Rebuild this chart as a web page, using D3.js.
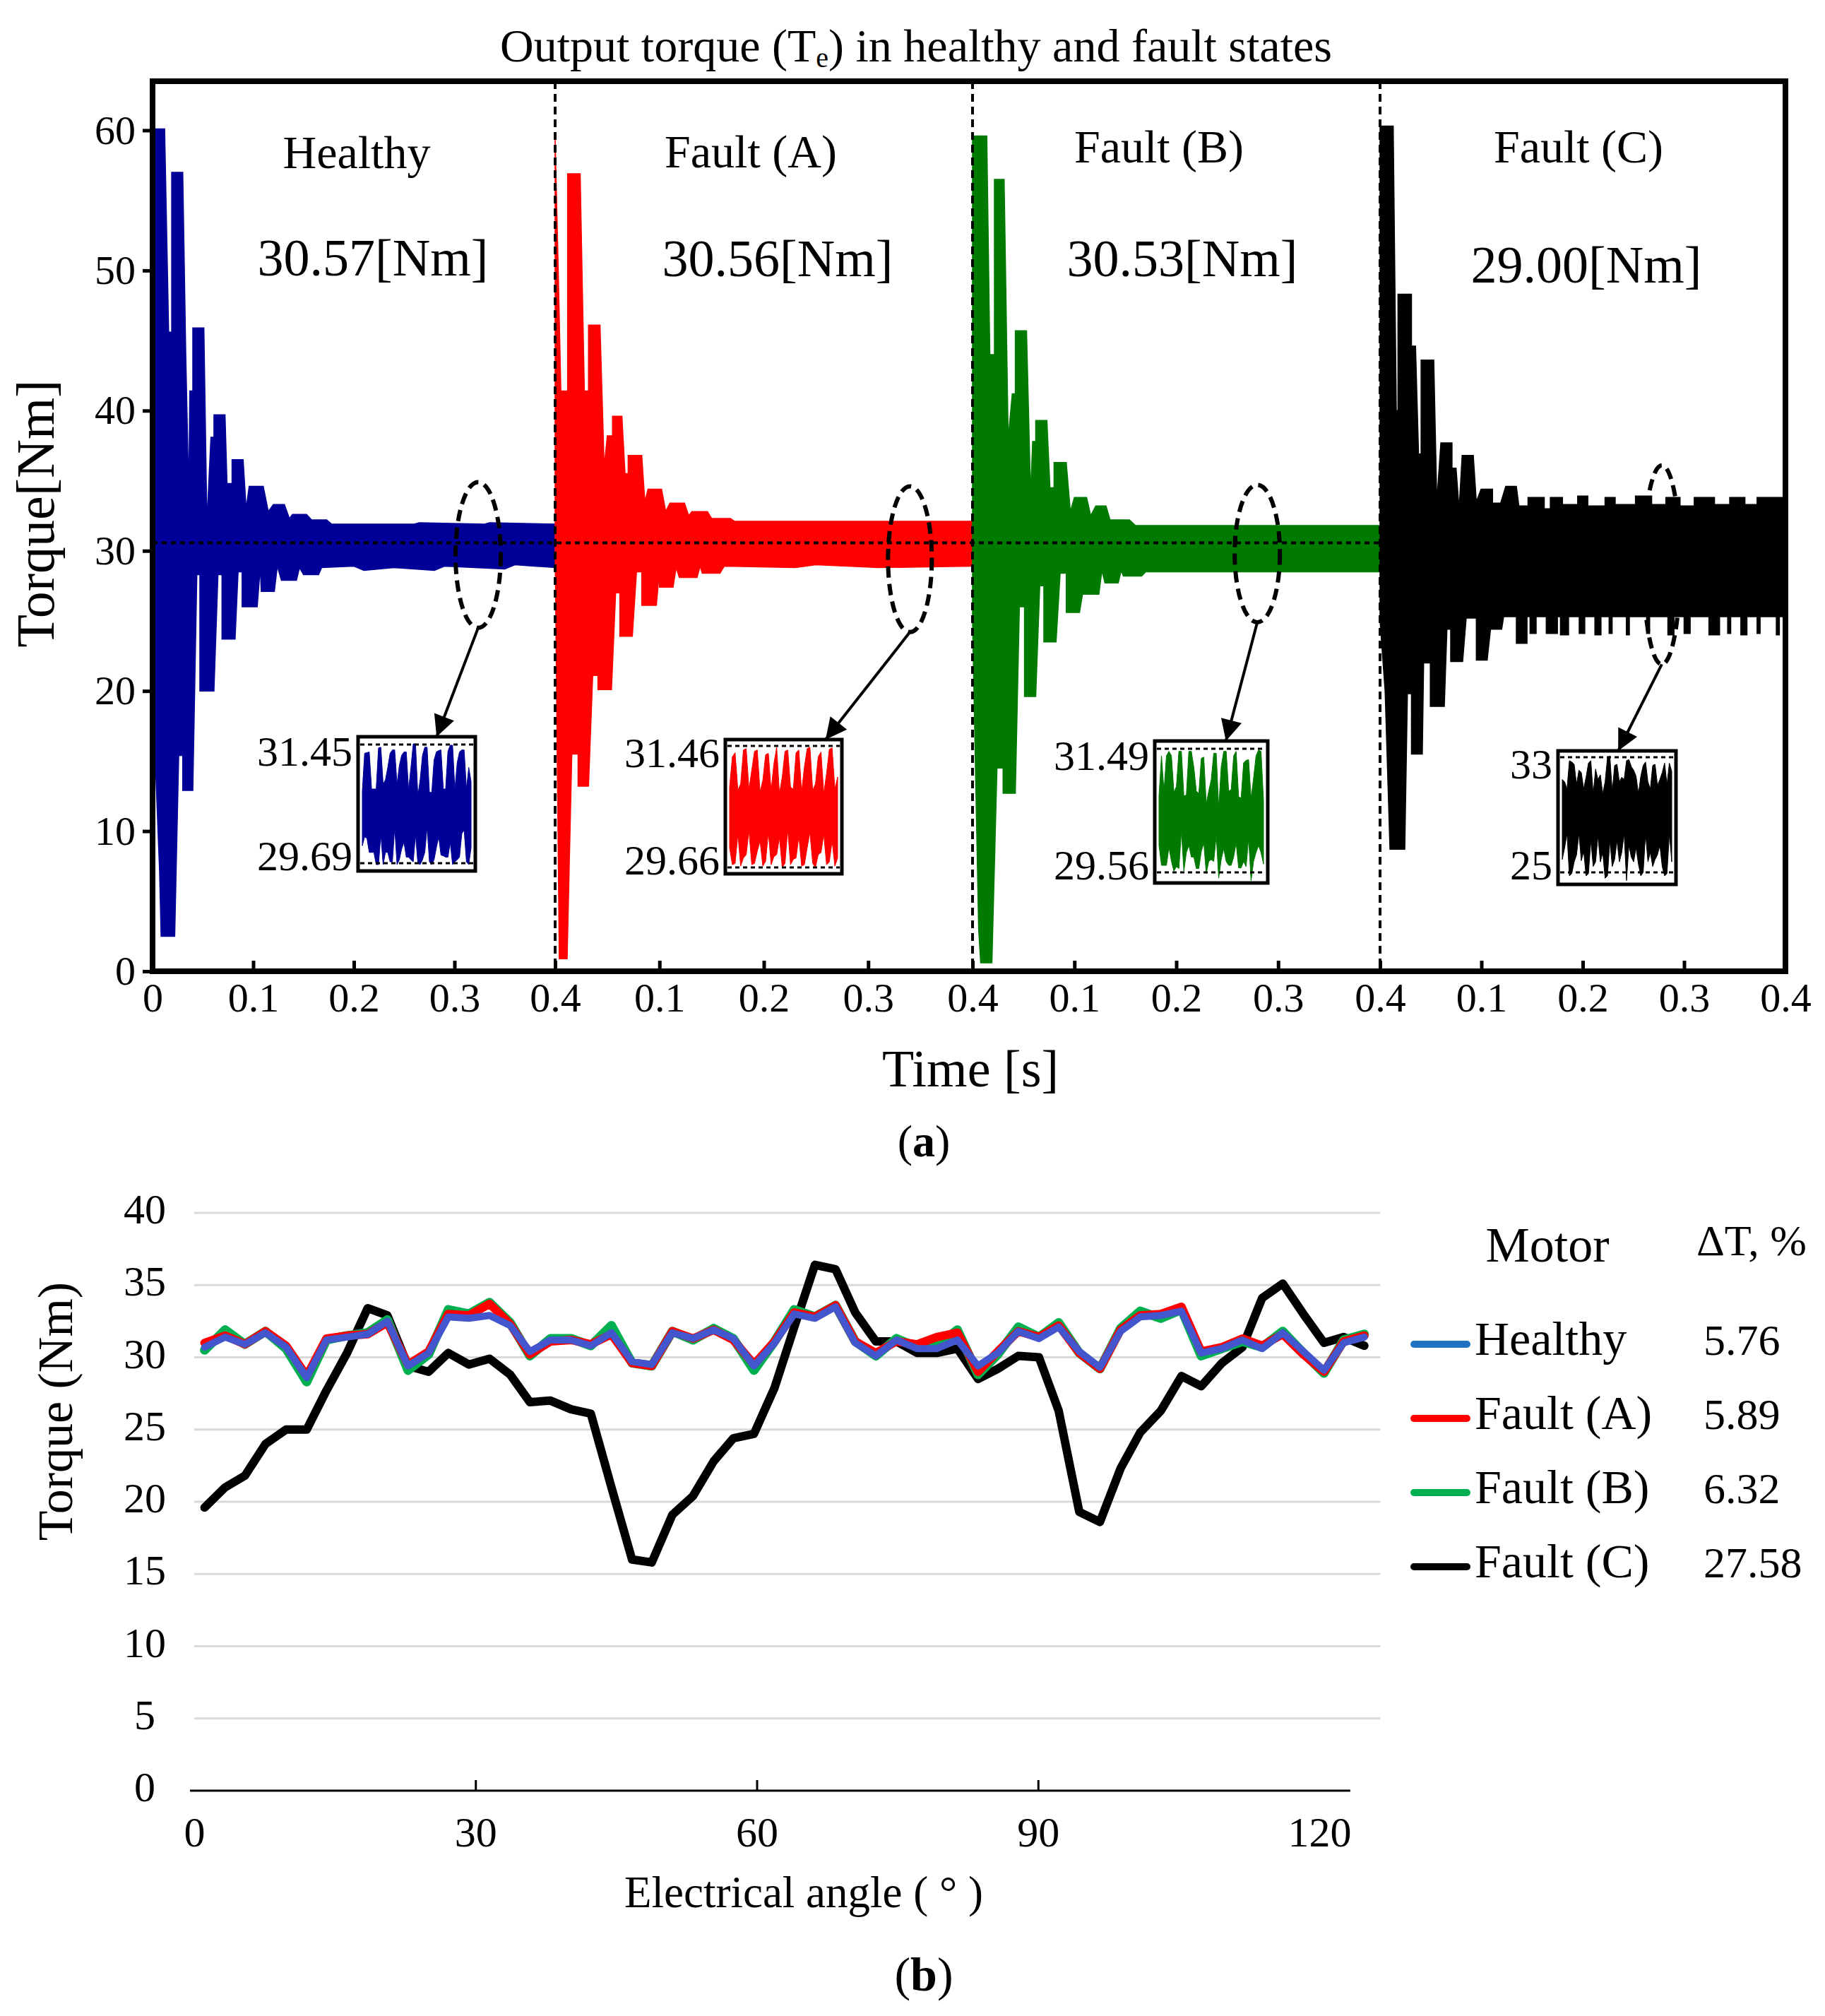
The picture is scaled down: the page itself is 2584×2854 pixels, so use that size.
<!DOCTYPE html>
<html>
<head>
<meta charset="utf-8">
<script src="https://cdn.jsdelivr.net/npm/d3@7"></script>
<style>
  body { margin: 0; background: #fff; }
  svg { display: block; font-family: "Liberation Serif", "Times New Roman", serif; }
</style>
</head>
<body>
<div id="chart"></div>
<script>
// ---------- (a) output torque, time domain ----------
// each panel: upper / lower envelope of the torque band, [t (s), torque (Nm)]
const panelNames = ["Healthy", "Fault (A)", "Fault (B)", "Fault (C)"];
const meanTorque = ["30.57", "30.56", "30.53", "29.00"];
const meanLine = 30.57;
const yTicksA = [0, 10, 20, 30, 40, 50, 60];

const healthyUpper = [[0,60.1],[0.012,60.1],[0.016,45.6],[0.019,45.6],[0.019,57.0],[0.030,57.0],[0.033,44.0],[0.036,34.0],[0.037,41.4],[0.040,41.4],[0.040,45.9],[0.051,45.9],[0.054,32.0],[0.058,38.1],[0.061,38.1],[0.061,39.7],[0.072,39.7],[0.074,34.8],[0.079,34.8],[0.079,36.5],[0.090,36.5],[0.093,33.0],[0.096,34.6],[0.110,34.6],[0.115,32.8],[0.120,33.3],[0.131,33.3],[0.136,32.3],[0.139,32.6],[0.153,32.6],[0.158,32.2],[0.173,32.2],[0.178,31.9],[0.26,31.9],[0.265,32.0],[0.33,31.9],[0.335,32.0],[0.4,31.9]];
const healthyLower = [[0,20.0],[0.007,7.1],[0.0085,2.5],[0.022,2.5],[0.026,15.4],[0.030,15.4],[0.030,12.9],[0.040,12.9],[0.044,28.3],[0.047,28.3],[0.047,20.0],[0.061,20.0],[0.065,28.3],[0.069,28.3],[0.069,23.7],[0.082,23.7],[0.085,28.5],[0.089,28.5],[0.089,26.0],[0.104,26.0],[0.107,28.8],[0.108,27.1],[0.121,27.1],[0.124,28.9],[0.128,27.9],[0.143,27.9],[0.146,28.8],[0.150,28.3],[0.165,28.3],[0.168,28.8],[0.2,28.9],[0.21,28.6],[0.24,28.8],[0.28,28.6],[0.29,28.9],[0.35,28.7],[0.36,29.0],[0.4,28.8]];

const faultAUpper = [[0,59.4],[0.003,50.0],[0.0055,41.4],[0.012,41.4],[0.012,56.9],[0.024,56.9],[0.028,41.4],[0.032,41.4],[0.032,46.1],[0.043,46.1],[0.047,36.0],[0.050,38.2],[0.055,38.2],[0.055,39.6],[0.064,39.6],[0.067,35.5],[0.070,35.5],[0.070,36.8],[0.083,36.8],[0.086,33.5],[0.089,34.4],[0.102,34.4],[0.106,32.8],[0.110,33.4],[0.124,33.4],[0.128,32.5],[0.131,32.8],[0.146,32.8],[0.150,32.3],[0.168,32.3],[0.172,32.1],[0.4,32.1]];
const faultALower = [[0,30.0],[0.004,0.9],[0.0115,0.9],[0.016,15.5],[0.022,15.5],[0.022,13.2],[0.032,13.2],[0.036,21.1],[0.041,21.1],[0.041,20.1],[0.054,20.1],[0.058,27.0],[0.062,27.0],[0.062,23.9],[0.074,23.9],[0.078,28.5],[0.083,28.5],[0.083,26.1],[0.097,26.1],[0.100,28.6],[0.100,27.4],[0.113,27.4],[0.116,28.8],[0.119,28.1],[0.136,28.1],[0.139,28.9],[0.141,28.4],[0.158,28.4],[0.162,28.9],[0.23,28.8],[0.25,29.0],[0.31,28.8],[0.4,28.9]];

const faultBUpper = [[0,59.6],[0.014,59.6],[0.017,44.0],[0.0215,44.0],[0.0215,56.5],[0.031,56.5],[0.035,38.0],[0.039,41.2],[0.042,41.2],[0.042,45.7],[0.053,45.7],[0.057,34.0],[0.059,37.8],[0.062,37.8],[0.062,39.3],[0.073,39.3],[0.076,34.5],[0.080,34.5],[0.080,36.3],[0.092,36.3],[0.096,32.8],[0.100,33.8],[0.112,33.8],[0.116,32.5],[0.121,33.2],[0.131,33.2],[0.135,32.2],[0.154,32.2],[0.160,31.8],[0.4,31.8]];
const faultBLower = [[0,25.0],[0.006,3.0],[0.008,0.6],[0.019,0.6],[0.024,14.5],[0.030,14.5],[0.030,12.7],[0.042,12.7],[0.046,26.0],[0.051,26.0],[0.051,19.6],[0.062,19.6],[0.066,27.5],[0.070,27.5],[0.070,23.5],[0.082,23.5],[0.086,28.4],[0.092,28.4],[0.092,25.6],[0.105,25.6],[0.108,26.9],[0.124,26.9],[0.127,28.6],[0.130,27.7],[0.143,27.7],[0.146,28.6],[0.148,28.2],[0.166,28.2],[0.170,28.5],[0.4,28.5]];

const faultCUpper = [[0,60.3],[0.013,60.3],[0.016,40.0],[0.0177,40.0],[0.0177,48.3],[0.031,48.3],[0.031,44.6],[0.035,44.6],[0.038,36.9],[0.0405,36.9],[0.0405,43.6],[0.053,43.6],[0.056,33.5],[0.060,37.7],[0.071,37.7],[0.071,35.9],[0.075,35.9],[0.078,33.0],[0.081,36.8],[0.092,36.8],[0.095,33.5],[0.0997,34.4],[0.111,34.4],[0.111,33.4],[0.119,33.4],[0.124,34.6],[0.1345,34.6],[0.137,33.2],[0.146,33.2],[0.146,33.8],[0.162,33.8],[0.162,33.0],[0.168,33.0],[0.168,33.8],[0.18,33.8],[0.18,33.3],[0.195,33.3],[0.195,33.9],[0.205,33.9],[0.205,33.2],[0.222,33.2],[0.222,33.8],[0.232,33.8],[0.232,33.3],[0.252,33.3],[0.252,33.9],[0.268,33.9],[0.268,33.3],[0.282,33.3],[0.282,33.8],[0.296,33.8],[0.296,33.2],[0.31,33.2],[0.31,33.8],[0.33,33.8],[0.33,33.3],[0.345,33.3],[0.345,33.8],[0.36,33.8],[0.36,33.3],[0.372,33.3],[0.372,33.8],[0.4,33.8]];
const faultCLower = [[0,25.0],[0.005,20.0],[0.0098,8.7],[0.0244,8.7],[0.027,19.8],[0.031,19.8],[0.031,15.5],[0.0417,15.5],[0.043,22.0],[0.0496,22.0],[0.0496,18.9],[0.0634,18.9],[0.066,24.4],[0.0697,24.4],[0.0697,22.1],[0.0815,22.1],[0.085,25.2],[0.095,25.2],[0.095,22.2],[0.1057,22.2],[0.109,24.4],[0.12,24.4],[0.122,25.3],[0.1345,25.3],[0.1345,23.4],[0.145,23.4],[0.145,25.3],[0.148,25.3],[0.148,24.1],[0.154,24.1],[0.154,25.3],[0.164,25.3],[0.164,24.1],[0.175,24.1],[0.175,25.3],[0.178,25.3],[0.178,24.0],[0.186,24.0],[0.186,25.3],[0.1965,25.3],[0.1965,24.1],[0.202,24.1],[0.202,25.3],[0.212,25.3],[0.212,24.0],[0.218,24.0],[0.218,25.3],[0.226,25.3],[0.226,24.1],[0.229,24.1],[0.229,25.3],[0.243,25.3],[0.243,24.0],[0.246,24.0],[0.246,25.3],[0.263,25.3],[0.263,24.1],[0.266,24.1],[0.266,25.3],[0.284,25.3],[0.284,24.0],[0.29,24.0],[0.29,25.3],[0.30,25.3],[0.30,24.1],[0.306,24.1],[0.306,25.3],[0.3245,25.3],[0.3245,24.0],[0.335,24.0],[0.335,25.3],[0.343,25.3],[0.343,24.1],[0.346,24.1],[0.346,25.3],[0.356,25.3],[0.356,24.0],[0.362,24.0],[0.362,25.3],[0.372,25.3],[0.372,24.1],[0.375,24.1],[0.375,25.3],[0.391,25.3],[0.391,24.0],[0.394,24.0],[0.394,25.3],[0.4,25.3]];

// zoomed insets: band top / bottom samples and the two marked levels
const insetHigh = [31.45, 31.46, 31.49, 33];
const insetLow = [29.69, 29.66, 29.56, 25];
const healthyInsetTop = [30.76,31.32,31.33,31.34,30.79,30.79,30.79,31.40,31.41,30.86,30.93,31.11,31.32,31.37,31.37,30.86,31.14,31.29,31.34,31.34,30.78,31.11,31.46,31.46,30.69,30.93,31.29,31.41,31.41,30.74,30.74,31.22,31.34,31.36,31.37,30.79,30.79,31.35,31.44,31.44,30.79,31.18,31.34,31.37,31.37,30.79,31.11,30.90];
const healthyInsetBottom = [29.95,30.08,30.06,29.85,29.85,29.85,29.67,29.67,30.11,29.67,29.85,29.85,29.71,29.71,30.22,29.67,29.74,29.90,30.00,29.78,29.78,29.74,29.71,30.11,29.69,29.67,29.74,29.85,30.22,29.71,29.67,29.74,29.92,30.08,29.81,29.80,29.78,29.78,29.99,29.67,29.71,29.74,29.78,30.13,30.18,29.71,29.67,29.92];
const faultAInsetTop = [30.85,31.30,31.36,30.80,30.90,31.40,31.42,30.82,31.10,31.38,31.40,30.78,30.95,31.33,31.35,30.80,31.20,31.44,30.75,31.00,31.38,31.40,30.85,30.82,31.36,31.40,30.78,31.15,31.42,31.44,30.80,30.90,31.30,31.37,30.76,31.05,31.41,31.43,30.82,31.00];
const faultAInsetBottom = [29.95,29.70,29.72,30.15,29.68,29.80,29.85,30.20,29.70,29.72,29.90,30.05,29.68,29.75,30.18,29.70,29.82,29.85,30.10,29.66,29.72,30.22,29.70,29.78,29.80,30.12,29.68,29.70,29.95,30.18,29.72,29.66,29.85,29.88,30.15,29.70,29.74,30.05,29.68,29.80];
const faultBInsetTop = [30.75,31.38,30.83,31.38,31.45,31.38,30.81,30.90,31.45,31.45,30.75,30.77,31.45,31.45,31.20,30.83,30.79,31.34,31.36,30.63,30.83,31.01,31.42,31.42,30.57,31.21,31.45,31.45,30.83,30.85,31.38,31.45,30.74,30.72,31.27,31.31,31.32,30.72,31.03,31.38,31.47,31.45,30.68];
const faultBInsetBottom = [29.98,29.67,29.67,29.67,29.95,29.73,29.58,29.65,29.62,30.20,29.58,29.87,29.98,29.80,29.80,29.62,29.62,29.89,30.02,29.54,29.73,29.76,29.73,30.13,29.47,29.76,29.93,29.73,29.67,29.67,29.80,30.02,29.63,29.63,29.73,29.65,30.09,29.43,29.73,29.87,29.98,29.87,29.69];
const faultCInsetTop = [31.45,31.29,30.80,32.76,32.67,32.51,31.12,32.10,31.94,30.80,31.61,32.59,32.76,30.47,32.18,31.45,31.78,30.47,31.29,33.00,33.08,30.63,32.43,32.51,31.29,31.61,31.45,32.76,32.84,32.35,32.10,31.69,30.47,31.69,32.43,32.67,31.29,30.80,32.43,32.51,31.04,31.45,31.94,32.59,31.12,32.59,32.02];
const faultCInsetBottom = [25.90,26.71,27.69,24.76,24.92,25.73,26.22,27.69,25.81,26.47,24.76,24.92,27.20,25.41,25.73,27.53,25.73,26.39,24.59,24.76,27.20,25.41,25.90,27.20,25.73,26.39,27.69,24.43,26.88,26.06,25.73,26.71,25.57,24.76,25.00,27.69,25.73,26.39,25.41,25.90,26.22,26.88,25.41,24.76,24.92,27.69,25.73];

// ---------- (b) torque vs electrical angle ----------
const angles = [1.1,3.3,5.4,7.6,9.8,12.0,14.1,16.3,18.5,20.6,22.8,25.0,27.1,29.3,31.5,33.7,35.8,38.0,40.2,42.3,44.5,46.7,48.8,51.0,53.2,55.4,57.5,59.7,61.9,64.0,66.2,68.4,70.5,72.7,74.9,77.1,79.2,81.4,83.6,85.7,87.9,90.1,92.2,94.4,96.6,98.8,100.9,103.1,105.3,107.4,109.6,111.8,113.9,116.1,118.3,120.5,122.6,124.8];
const torqueHealthy = [30.7,31.4,30.9,31.7,30.7,28.6,31.2,31.4,31.6,32.5,29.4,30.3,32.8,32.7,32.9,32.2,30.4,31.2,31.2,30.8,31.7,29.7,29.5,31.7,31.3,31.9,31.3,29.4,31.0,33.0,32.7,33.5,31.0,30.1,31.2,30.6,30.6,31.2,29.4,30.3,31.8,31.3,32.1,30.4,29.3,31.8,32.8,32.9,33.2,30.3,30.6,31.2,30.6,31.7,30.4,29.1,31.0,31.4];
const torqueFaultA = [31.0,31.5,30.9,31.8,30.8,28.7,31.3,31.5,31.6,32.4,29.5,30.4,33.0,32.9,33.7,32.3,30.2,31.1,31.2,30.9,31.6,29.6,29.4,31.8,31.3,31.9,31.2,29.5,31.1,33.1,32.8,33.6,31.1,30.3,31.1,30.9,31.4,31.7,29.0,30.4,31.8,31.4,32.2,30.3,29.2,31.9,32.9,33.0,33.5,30.4,30.7,31.3,30.8,31.6,30.2,29.0,31.1,31.5];
const torqueFaultB = [30.5,31.9,30.9,31.8,30.6,28.3,31.2,31.5,31.7,32.6,29.1,30.2,33.3,33.0,33.8,32.4,30.1,31.3,31.3,30.8,32.2,29.6,29.4,31.8,31.2,32.0,31.3,29.1,31.1,33.3,32.8,33.6,31.1,30.1,31.3,30.7,30.8,31.9,28.8,30.2,32.1,31.4,32.4,30.3,29.2,32.0,33.2,32.7,33.3,30.1,30.6,31.1,30.7,31.8,30.3,28.9,31.2,31.6];
const torqueFaultC = [19.6,21.0,21.8,24.0,25.0,25.0,27.7,30.3,33.4,32.9,29.4,29.0,30.3,29.5,29.9,28.8,26.9,27.0,26.4,26.1,21.0,16.0,15.8,19.1,20.4,22.8,24.4,24.7,27.9,32.1,36.4,36.1,33.1,31.1,31.1,30.3,30.3,30.6,28.5,29.2,30.1,30.0,26.3,19.3,18.6,22.3,24.8,26.3,28.7,28.0,29.6,30.7,34.1,35.1,33.0,31.0,31.4,30.8];
const yTicksB = [0, 5, 10, 15, 20, 25, 30, 35, 40];
const xTicksB = [0, 30, 60, 90, 120];
const rippleValues = ["5.76", "5.89", "6.32", "27.58"];

const width = 2584, height = 2854;
const fontFamily = '"Liberation Serif", "Times New Roman", serif';

const svg = d3.select("#chart")
  .append("svg")
  .attr("width", width)
  .attr("height", height)
  .attr("viewBox", [0, 0, width, height]);

svg.append("rect").attr("width", width).attr("height", height).attr("fill", "#fff");

svg.append("defs").append("marker")
  .attr("id", "arrow")
  .attr("viewBox", "0 0 10 10")
  .attr("refX", 10).attr("refY", 5)
  .attr("markerUnits", "userSpaceOnUse")
  .attr("markerWidth", 34).attr("markerHeight", 30)
  .attr("orient", "auto")
  .append("path").attr("d", "M0,0 L10,5 L0,10 z").attr("fill", "#000");

/* ======================= panel (a) ======================= */

const frame = { left: 216, right: 2528, top: 115, bottom: 1375 };
const edges = [216, 786, 1377, 1954, 2528];

const yA = d3.scaleLinear().domain([0, 63.5]).range([frame.bottom, frame.top]);
const xA = edges.slice(0, 4).map((e, i) =>
  d3.scaleLinear().domain([0, 0.4]).range([e, edges[i + 1]]));

const waves = [
  { upper: healthyUpper, lower: healthyLower, color: "#000099" },
  { upper: faultAUpper, lower: faultALower, color: "#ff0000" },
  { upper: faultBUpper, lower: faultBLower, color: "#007a00" },
  { upper: faultCUpper, lower: faultCLower, color: "#000000" }
];

// band = upper envelope forward, lower envelope back
waves.forEach((w, i) => {
  const line = d3.line().x(d => xA[i](d[0])).y(d => yA(d[1]));
  svg.append("path")
    .attr("d", line(w.upper.concat(w.lower.slice().reverse())) + "Z")
    .attr("fill", w.color)
    .attr("stroke", w.color)
    .attr("stroke-width", 1.5);
});

// panel separators
svg.selectAll(".sep")
  .data(edges.slice(1, 4))
  .enter()
  .append("line")
    .attr("class", "sep")
    .attr("x1", d => d).attr("x2", d => d)
    .attr("y1", frame.top).attr("y2", frame.bottom)
    .attr("stroke", "#000")
    .attr("stroke-width", 4)
    .attr("stroke-dasharray", "11,7");

// average torque line
svg.append("line")
  .attr("x1", edges[0]).attr("x2", edges[3])
  .attr("y1", yA(meanLine)).attr("y2", yA(meanLine))
  .attr("stroke", "#000")
  .attr("stroke-width", 4)
  .attr("stroke-dasharray", "7,6");

// frame
svg.append("rect")
  .attr("x", frame.left).attr("y", frame.top)
  .attr("width", frame.right - frame.left)
  .attr("height", frame.bottom - frame.top)
  .attr("fill", "none")
  .attr("stroke", "#000")
  .attr("stroke-width", 8);

// y axis
svg.append("g")
  .attr("transform", `translate(${frame.left},0)`)
  .call(d3.axisLeft(yA).tickValues(yTicksA).tickSize(14).tickPadding(10))
  .attr("font-family", fontFamily)
  .attr("font-size", 58)
  .call(g => g.select(".domain").remove())
  .call(g => g.selectAll(".tick line").attr("stroke-width", 5))
  .call(g => g.selectAll(".tick text").attr("fill", "#000"));

// x axes, one per state
xA.forEach((x, i) => {
  svg.append("g")
    .attr("transform", `translate(0,${frame.bottom})`)
    .call(d3.axisBottom(x)
      .tickValues(i === 0 ? [0, 0.1, 0.2, 0.3, 0.4] : [0.1, 0.2, 0.3, 0.4])
      .tickSizeInner(-15).tickSizeOuter(0).tickPadding(16)
      .tickFormat(d => d === 0 ? "0" : d3.format(".1f")(d)))
    .attr("font-family", fontFamily)
    .attr("font-size", 58)
    .call(g => g.select(".domain").remove())
    .call(g => g.selectAll(".tick line").attr("stroke-width", 5))
    .call(g => g.selectAll(".tick text").attr("fill", "#000"));
});

// state names and averages
const nameX = [505, 1063, 1641, 2235];
const nameY = [238, 237, 230, 230];
const valueX = [528, 1101, 1674, 2246];
const valueY = [390, 391, 391, 400];

panelNames.forEach((n, i) => {
  svg.append("text")
    .attr("x", nameX[i]).attr("y", nameY[i])
    .attr("text-anchor", "middle")
    .attr("font-size", 66)
    .text(n);
  svg.append("text")
    .attr("x", valueX[i]).attr("y", valueY[i])
    .attr("text-anchor", "middle")
    .attr("font-size", 74)
    .text(meanTorque[i] + "[Nm]");
});

// zoom markers and insets
const zoomAt = [
  { t: 0.3235, v: 29.7, rx: 32, rv: 5.2 },
  { t: 0.34, v: 29.4, rx: 31, rv: 5.2 },
  { t: 0.2795, v: 29.8, rx: 32, rv: 4.9 },
  { t: 0.278, v: 29.0, rx: 26, rv: 7.1 }
];
const insetBox = [
  { x: 507, y: 1043, w: 166, h: 190, padT: 11, padB: 11, arrow: 0.67 },
  { x: 1027, y: 1047, w: 165, h: 190, padT: 9, padB: 9, arrow: 0.86 },
  { x: 1635, y: 1049, w: 160, h: 201, padT: 11, padB: 15, arrow: 0.63 },
  { x: 2206, y: 1063, w: 167, h: 189, padT: 9, padB: 17, arrow: 0.51 }
];
const insetTop = [healthyInsetTop, faultAInsetTop, faultBInsetTop, faultCInsetTop];
const insetBottom = [healthyInsetBottom, faultAInsetBottom, faultBInsetBottom, faultCInsetBottom];

zoomAt.forEach((z, i) => {
  const cx = xA[i](z.t), cy = yA(z.v);
  const ry = yA(z.v - z.rv) - cy;
  svg.append("ellipse")
    .attr("cx", cx).attr("cy", cy)
    .attr("rx", z.rx).attr("ry", ry)
    .attr("fill", "none")
    .attr("stroke", "#000")
    .attr("stroke-width", 6)
    .attr("stroke-dasharray", "16,9");

  const b = insetBox[i];
  svg.append("line")
    .attr("x1", cx).attr("y1", cy + ry)
    .attr("x2", b.x + b.arrow * b.w).attr("y2", b.y)
    .attr("stroke", "#000")
    .attr("stroke-width", 4)
    .attr("marker-end", "url(#arrow)");

  const ys = d3.scaleLinear().domain([insetLow[i], insetHigh[i]])
    .range([b.y + b.h - b.padB, b.y + b.padT]);
  const top = insetTop[i], bottom = insetBottom[i];
  const xs = d3.scaleLinear().domain([0, top.length - 1]).range([b.x + 6, b.x + b.w - 6]);

  svg.append("rect")
    .attr("x", b.x).attr("y", b.y).attr("width", b.w).attr("height", b.h)
    .attr("fill", "#fff");

  svg.append("path")
    .datum(top)
    .attr("d", d3.area()
      .x((d, k) => xs(k))
      .y0((d, k) => ys(bottom[k]))
      .y1(d => ys(d)))
    .attr("fill", waves[i].color)
    .attr("stroke", waves[i].color)
    .attr("stroke-width", 1);

  [insetHigh[i], insetLow[i]].forEach(v => {
    svg.append("line")
      .attr("x1", b.x + 3).attr("x2", b.x + b.w - 3)
      .attr("y1", ys(v)).attr("y2", ys(v))
      .attr("stroke", "#000")
      .attr("stroke-width", 3)
      .attr("stroke-dasharray", "6,5");
  });

  svg.append("rect")
    .attr("x", b.x).attr("y", b.y).attr("width", b.w).attr("height", b.h)
    .attr("fill", "none")
    .attr("stroke", "#000")
    .attr("stroke-width", 5);

  svg.append("text")
    .attr("x", b.x - 8).attr("y", ys(insetHigh[i]) + 30)
    .attr("text-anchor", "end")
    .attr("font-size", 60)
    .text(insetHigh[i]);
  svg.append("text")
    .attr("x", b.x - 8).attr("y", ys(insetLow[i]) + 10)
    .attr("text-anchor", "end")
    .attr("font-size", 60)
    .text(insetLow[i]);
});

// titles for (a)
const titleA = svg.append("text")
  .attr("x", 1297).attr("y", 87)
  .attr("text-anchor", "middle")
  .attr("font-size", 66);
titleA.append("tspan").text("Output torque (T");
titleA.append("tspan").attr("font-size", 40).attr("dy", 8).text("e");
titleA.append("tspan").attr("dy", -8).text(") in healthy and fault states");

svg.append("text")
  .attr("transform", "translate(76,727) rotate(-90)")
  .attr("text-anchor", "middle")
  .attr("font-size", 76)
  .text("Torque[Nm]");

svg.append("text")
  .attr("x", 1374).attr("y", 1538)
  .attr("text-anchor", "middle")
  .attr("font-size", 74)
  .text("Time [s]");

const capA = svg.append("text")
  .attr("x", 1308).attr("y", 1637)
  .attr("text-anchor", "middle")
  .attr("font-size", 64);
capA.append("tspan").text("(");
capA.append("tspan").attr("font-weight", "bold").text("a");
capA.append("tspan").text(")");

/* ======================= panel (b) ======================= */

const xB = d3.scaleLinear().domain([0, 120]).range([275, 1868]);
const yB = d3.scaleLinear().domain([0, 40]).range([2535, 1717]);

// gridlines
svg.selectAll(".gridB")
  .data(yTicksB.filter(d => d > 0))
  .enter()
  .append("line")
    .attr("class", "gridB")
    .attr("x1", xB(0)).attr("x2", xB(126.5))
    .attr("y1", d => yB(d)).attr("y2", d => yB(d))
    .attr("stroke", "#d9d9d9")
    .attr("stroke-width", 3);

// zero axis
svg.append("line")
  .attr("x1", xB(-0.45)).attr("x2", xB(123.3))
  .attr("y1", yB(0)).attr("y2", yB(0))
  .attr("stroke", "#000")
  .attr("stroke-width", 3);

svg.append("g")
  .attr("transform", `translate(0,${yB(0)})`)
  .call(d3.axisBottom(xB).tickValues(xTicksB).tickSizeInner(-15).tickSizeOuter(0).tickPadding(36))
  .attr("font-family", fontFamily)
  .attr("font-size", 60)
  .call(g => g.select(".domain").remove())
  .call(g => g.selectAll(".tick line")
    .attr("stroke-width", 3)
    .attr("opacity", d => (d === 0 || d === 120) ? 0 : 1))
  .call(g => g.selectAll(".tick text").attr("fill", "#000"));

svg.append("g")
  .selectAll("text")
  .data(yTicksB)
  .enter()
  .append("text")
    .attr("x", 205)
    .attr("y", d => yB(d) + 15)
    .attr("text-anchor", "middle")
    .attr("font-size", 60)
    .text(d => d);

const seriesB = [
  { name: "Healthy", values: torqueHealthy, color: "#4356cd", key: "#1f73c2", w: 10 },
  { name: "Fault (A)", values: torqueFaultA, color: "#ff0000", key: "#ff0000", w: 12 },
  { name: "Fault (B)", values: torqueFaultB, color: "#00b050", key: "#00b050", w: 13 },
  { name: "Fault (C)", values: torqueFaultC, color: "#000000", key: "#000000", w: 12 }
];

const lineB = d3.line()
  .x((d, i) => xB(angles[i]))
  .y(d => yB(d));

// draw order: C, B, A, healthy on top
[3, 2, 1, 0].forEach(k => {
  svg.append("path")
    .datum(seriesB[k].values)
    .attr("d", lineB)
    .attr("fill", "none")
    .attr("stroke", seriesB[k].color)
    .attr("stroke-width", seriesB[k].w)
    .attr("stroke-linejoin", "round")
    .attr("stroke-linecap", "round");
});

svg.append("text")
  .attr("transform", "translate(102,1998) rotate(-90)")
  .attr("text-anchor", "middle")
  .attr("font-size", 70)
  .text("Torque (Nm)");

svg.append("text")
  .attr("x", 1138).attr("y", 2700)
  .attr("text-anchor", "middle")
  .attr("font-size", 63)
  .text("Electrical angle ( ° )");

const capB = svg.append("text")
  .attr("x", 1308).attr("y", 2818)
  .attr("text-anchor", "middle")
  .attr("font-size", 68);
capB.append("tspan").text("(");
capB.append("tspan").attr("font-weight", "bold").text("b");
capB.append("tspan").text(")");

// legend table
svg.append("text")
  .attr("x", 2191).attr("y", 1786)
  .attr("text-anchor", "middle")
  .attr("font-size", 70)
  .text("Motor");
svg.append("text")
  .attr("x", 2402).attr("y", 1777)
  .attr("font-size", 62)
  .text("ΔT, %");

const legend = svg.selectAll(".legB")
  .data(seriesB)
  .enter()
  .append("g")
    .attr("class", "legB")
    .attr("transform", (d, i) => `translate(0,${1918 + i * 105})`);

legend.append("line")
  .attr("x1", 2002).attr("x2", 2077)
  .attr("y1", -15).attr("y2", -15)
  .attr("stroke", d => d.key)
  .attr("stroke-width", 10)
  .attr("stroke-linecap", "round");

legend.append("text")
  .attr("x", 2088)
  .attr("font-size", 68)
  .text(d => d.name);

legend.append("text")
  .attr("x", 2412)
  .attr("font-size", 62)
  .text((d, i) => rippleValues[i]);
</script>
</body>
</html>
